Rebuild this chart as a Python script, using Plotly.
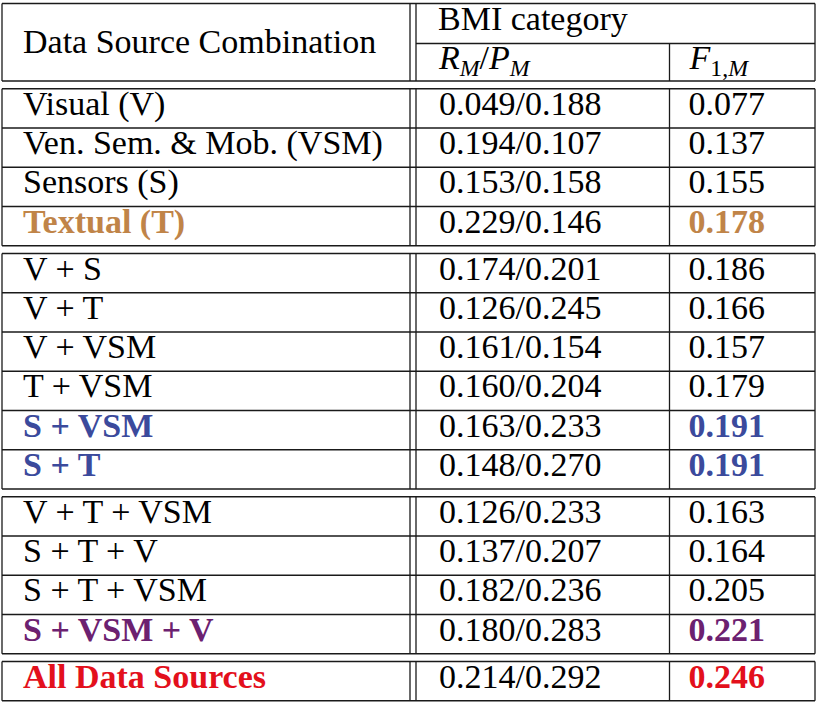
import plotly.graph_objects as go

# ---- data ----
combos = [
    ["Visual (V)", "Ven. Sem. & Mob. (VSM)", "Sensors (S)", "Textual (T)"],
    ["V + S", "V + T", "V + VSM", "T + VSM", "S + VSM", "S + T"],
    ["V + T + VSM", "S + T + V", "S + T + VSM", "S + VSM + V"],
    ["All Data Sources"],
]
recall = [
    [0.049, 0.194, 0.153, 0.229],
    [0.174, 0.126, 0.161, 0.160, 0.163, 0.148],
    [0.126, 0.137, 0.182, 0.180],
    [0.214],
]
precision = [
    [0.188, 0.107, 0.158, 0.146],
    [0.201, 0.245, 0.154, 0.204, 0.233, 0.270],
    [0.233, 0.207, 0.236, 0.283],
    [0.292],
]
f1 = [
    [0.077, 0.137, 0.155, 0.178],
    [0.186, 0.166, 0.157, 0.179, 0.191, 0.191],
    [0.163, 0.164, 0.205, 0.221],
    [0.246],
]
highlight = {  # (group, row) -> colour
    (0, 3): "#C08448",
    (1, 4): "#3B4A9C",
    (1, 5): "#3B4A9C",
    (2, 3): "#6C2170",
    (3, 0): "#E3101C",
}
header_main = "Data Source Combination"
header_group = "BMI category"
header_rp = "<i>R</i><sub><i>M</i></sub>/<i>P</i><sub><i>M</i></sub>"
header_f1 = "<i>F</i><sub>1,<i>M</i></sub>"

# ---- geometry ----
W, H = 819, 703
X_L, X_D1, X_D2, X_F, X_R = 2, 410, 416, 669.5, 815
Y_TOP, Y_MID, Y_HB = 3.5, 43.5, 81
GAP = 7.75
ROW_H = 39.25
FONT = "Liberation Serif"
FS = 34
LC = "#1a1a1a"
LW = 1.3

shapes = []


def line(x0, y0, x1, y1):
    shapes.append(dict(type="line", xref="x", yref="y", x0=x0, x1=x1, y0=y0, y1=y1,
                       line=dict(color=LC, width=LW)))


# header block
line(X_L, Y_TOP, X_R, Y_TOP)
line(X_D2, Y_MID, X_R, Y_MID)
line(X_L, Y_HB, X_R, Y_HB)
for x in (X_L, X_D1, X_D2, X_R):
    line(x, Y_TOP, x, Y_HB)
line(X_F, Y_MID, X_F, Y_HB)

tx, ty, tt, tc = [], [], [], []
y = Y_HB + GAP
for g, names in enumerate(combos):
    top = y
    line(X_L, top, X_R, top)
    for r, name in enumerate(names):
        yc = y + ROW_H / 2 - 2.0
        col = highlight.get((g, r), "black")
        b0, b1 = ("<b>", "</b>") if (g, r) in highlight else ("", "")
        tx += [X_L + 21, X_D2 + 23, X_F + 19]
        ty += [yc, yc, yc]
        tt += [f"{b0}{name}{b1}",
               f"{recall[g][r]:.3f}/{precision[g][r]:.3f}",
               f"{b0}{f1[g][r]:.3f}{b1}"]
        tc += [col, "black", col]
        y += ROW_H
        line(X_L, y, X_R, y)
    for x in (X_L, X_D1, X_D2, X_F, X_R):
        line(x, top, x, y)
    y += GAP

fig = go.Figure()
fig.add_trace(go.Scatter(x=tx, y=ty, text=tt, mode="text", textposition="middle right",
                         textfont=dict(family=FONT, size=FS, color=tc),
                         hoverinfo="skip", showlegend=False))
fig.add_trace(go.Scatter(
    x=[X_L + 21, X_D2 + 22, X_D2 + 23, X_F + 20],
    y=[44, 21, 60, 60],
    text=[header_main, header_group, header_rp, header_f1],
    mode="text", textposition="middle right",
    textfont=dict(family=FONT, size=FS, color="black"),
    hoverinfo="skip", showlegend=False))

fig.update_layout(
    width=W, height=H, margin=dict(l=0, r=0, t=0, b=0),
    paper_bgcolor="white", plot_bgcolor="white",
    xaxis=dict(range=[0, W], visible=False, fixedrange=True),
    yaxis=dict(range=[H, 0], visible=False, fixedrange=True),
    shapes=shapes,
)
fig.write_html("out.html", config={"displayModeBar": False},
               post_script="document.body.style.margin='0';document.body.style.overflow='hidden';")
